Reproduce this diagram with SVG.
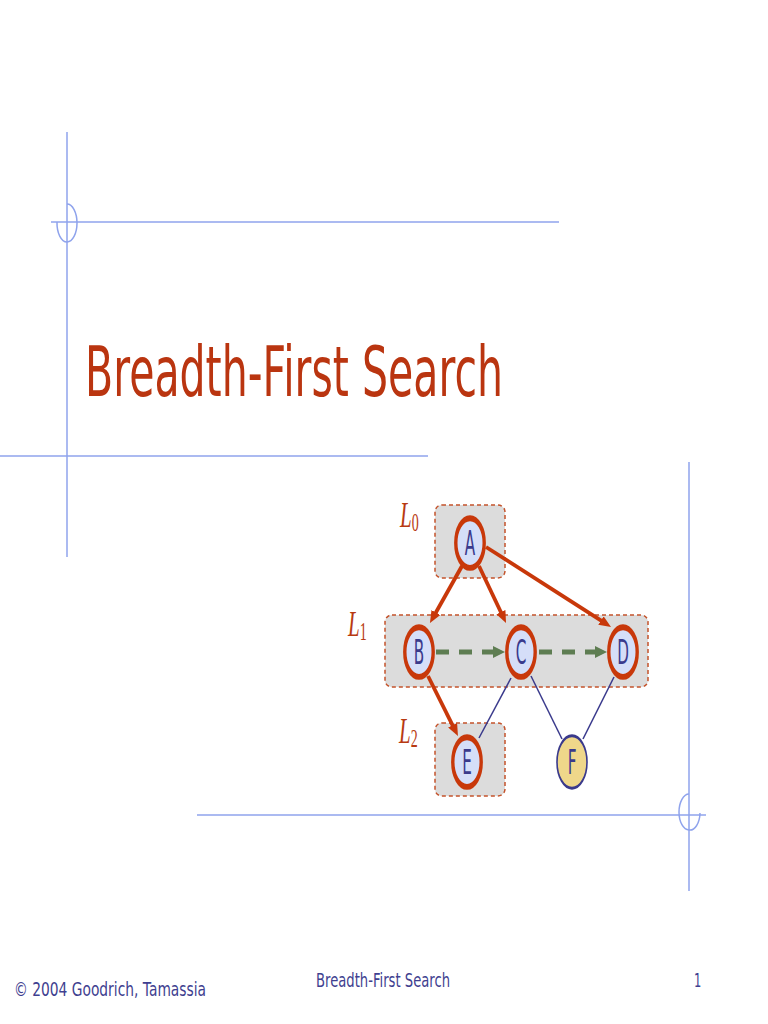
<svg xmlns="http://www.w3.org/2000/svg" width="768" height="1024" viewBox="0 0 768 1024">
<defs>
<style>
.deco{stroke:#8FA3EC;stroke-width:1.5;fill:none}
.box{fill:#DCDCDC;stroke:#C4532B;stroke-width:1.5;stroke-dasharray:4 3}
.v{fill:#D5DEF8;stroke:#C8380A;stroke-width:3.4}
.vf{fill:#EFD78A;stroke:#3A3A8C;stroke-width:1.6}
.lbl{font-family:"DejaVu Sans",Verdana,sans-serif;font-size:19px;fill:#3A3A8C;text-anchor:middle}
.lev{font-family:"Liberation Serif","Times New Roman",serif;font-style:italic;font-size:21px;fill:#B83A12}
.sub{font-style:normal;font-size:14px}
.tree{stroke:#C8380A;stroke-width:3.8;fill:none}
.cross{stroke:#5E7D52;stroke-width:5;stroke-dasharray:13 10;fill:none}
.edge{stroke:#3A3A8C;stroke-width:1.5;fill:none}
.foot{font-family:"DejaVu Sans",Verdana,sans-serif;font-size:11.5px;fill:#3F3F90}
</style>
<marker id="redArrow" viewBox="0 0 12 10" refX="4" refY="5" markerWidth="12" markerHeight="10" markerUnits="userSpaceOnUse" orient="auto">
<path d="M0,0 L12,5 L0,10 z" fill="#C8380A"/>
</marker>
<marker id="greenArrow" viewBox="0 0 12 12" refX="4" refY="6" markerWidth="12" markerHeight="12" markerUnits="userSpaceOnUse" orient="auto">
<path d="M0,0 L12,6 L0,12 z" fill="#5E7D52"/>
</marker>
</defs>

<rect width="768" height="1024" fill="#FFFFFF"/>

<g id="decoration">
<line class="deco" x1="67" y1="132" x2="67" y2="557"/>
<line class="deco" x1="51" y1="222" x2="559" y2="222"/>
<path class="deco" d="M67,204 A10,19 0 0 1 67,242 A10,19 0 0 1 57,222"/>
<line class="deco" x1="0" y1="456" x2="428" y2="456"/>
<line class="deco" x1="689" y1="462" x2="689" y2="891"/>
<line class="deco" x1="197" y1="815" x2="706" y2="815"/>
<path class="deco" d="M689,794 A10,18 0 0 0 689,830 A10,18 0 0 0 700,813"/>
</g>

<text id="title" transform="translate(85,396) scale(1,1.75)" font-family="DejaVu Sans, Verdana, sans-serif" font-size="40" fill="#BA3510" textLength="418" lengthAdjust="spacingAndGlyphs">Breadth-First Search</text>

<g id="levels">
<rect id="L0-box" class="box" x="435" y="505" width="70" height="73" rx="7"/>
<rect id="L1-box" class="box" x="385" y="615" width="263" height="72" rx="7"/>
<rect id="L2-box" class="box" x="435" y="723" width="70" height="73" rx="7"/>
<text id="L0-label" class="lev" transform="translate(400,527) scale(1,1.75)">L<tspan class="sub" dy="2.3">0</tspan></text>
<text id="L1-label" class="lev" transform="translate(348,636) scale(1,1.75)">L<tspan class="sub" dy="2.3">1</tspan></text>
<text id="L2-label" class="lev" transform="translate(399,743) scale(1,1.75)">L<tspan class="sub" dy="2.3">2</tspan></text>
</g>

<g id="connectors">
<line class="edge" x1="511" y1="678" x2="479" y2="738"/>
<line class="edge" x1="531" y1="676" x2="562" y2="739"/>
<line class="edge" x1="614" y1="677" x2="583" y2="739"/>
<line class="tree" x1="462" y1="566" x2="433.9" y2="616" marker-end="url(#redArrow)"/>
<line class="tree" x1="479" y1="566" x2="502.6" y2="615.8" marker-end="url(#redArrow)"/>
<line class="tree" x1="486" y1="547" x2="604.3" y2="622.7" marker-end="url(#redArrow)"/>
<line class="tree" x1="428" y1="676" x2="454.4" y2="728.8" marker-end="url(#redArrow)"/>
<line class="cross" x1="436" y1="652" x2="497" y2="652" marker-end="url(#greenArrow)"/>
<line class="cross" x1="539" y1="652" x2="599" y2="652" marker-end="url(#greenArrow)"/>
</g>

<g id="node-A" transform="translate(470,543)">
<circle class="v" r="14.2" transform="scale(1,1.75)"/>
<text class="lbl" transform="scale(0.8,1.75)" y="6.8">A</text>
</g>
<g id="node-B" transform="translate(419,652)">
<circle class="v" r="14.2" transform="scale(1,1.75)"/>
<text class="lbl" transform="scale(0.8,1.75)" y="6.8">B</text>
</g>
<g id="node-C" transform="translate(521,652)">
<circle class="v" r="14.2" transform="scale(1,1.75)"/>
<text class="lbl" transform="scale(0.8,1.75)" y="6.8">C</text>
</g>
<g id="node-D" transform="translate(623,652)">
<circle class="v" r="14.2" transform="scale(1,1.75)"/>
<text class="lbl" transform="scale(0.8,1.75)" y="6.8">D</text>
</g>
<g id="node-E" transform="translate(467,762)">
<circle class="v" r="14.2" transform="scale(1,1.75)"/>
<text class="lbl" transform="scale(0.8,1.75)" y="6.8">E</text>
</g>
<g id="node-F" transform="translate(572,762)">
<circle class="vf" r="15" transform="scale(1,1.75)"/>
<text class="lbl" transform="scale(0.8,1.75)" y="6.8">F</text>
</g>

<g id="footer">
<text class="foot" transform="translate(14,996) scale(1,1.75)" textLength="192" lengthAdjust="spacingAndGlyphs">© 2004 Goodrich, Tamassia</text>
<text class="foot" transform="translate(316,987) scale(1,1.75)" textLength="134" lengthAdjust="spacingAndGlyphs">Breadth-First Search</text>
<text class="foot" transform="translate(694,987) scale(1,1.75)">1</text>
</g>
</svg>
